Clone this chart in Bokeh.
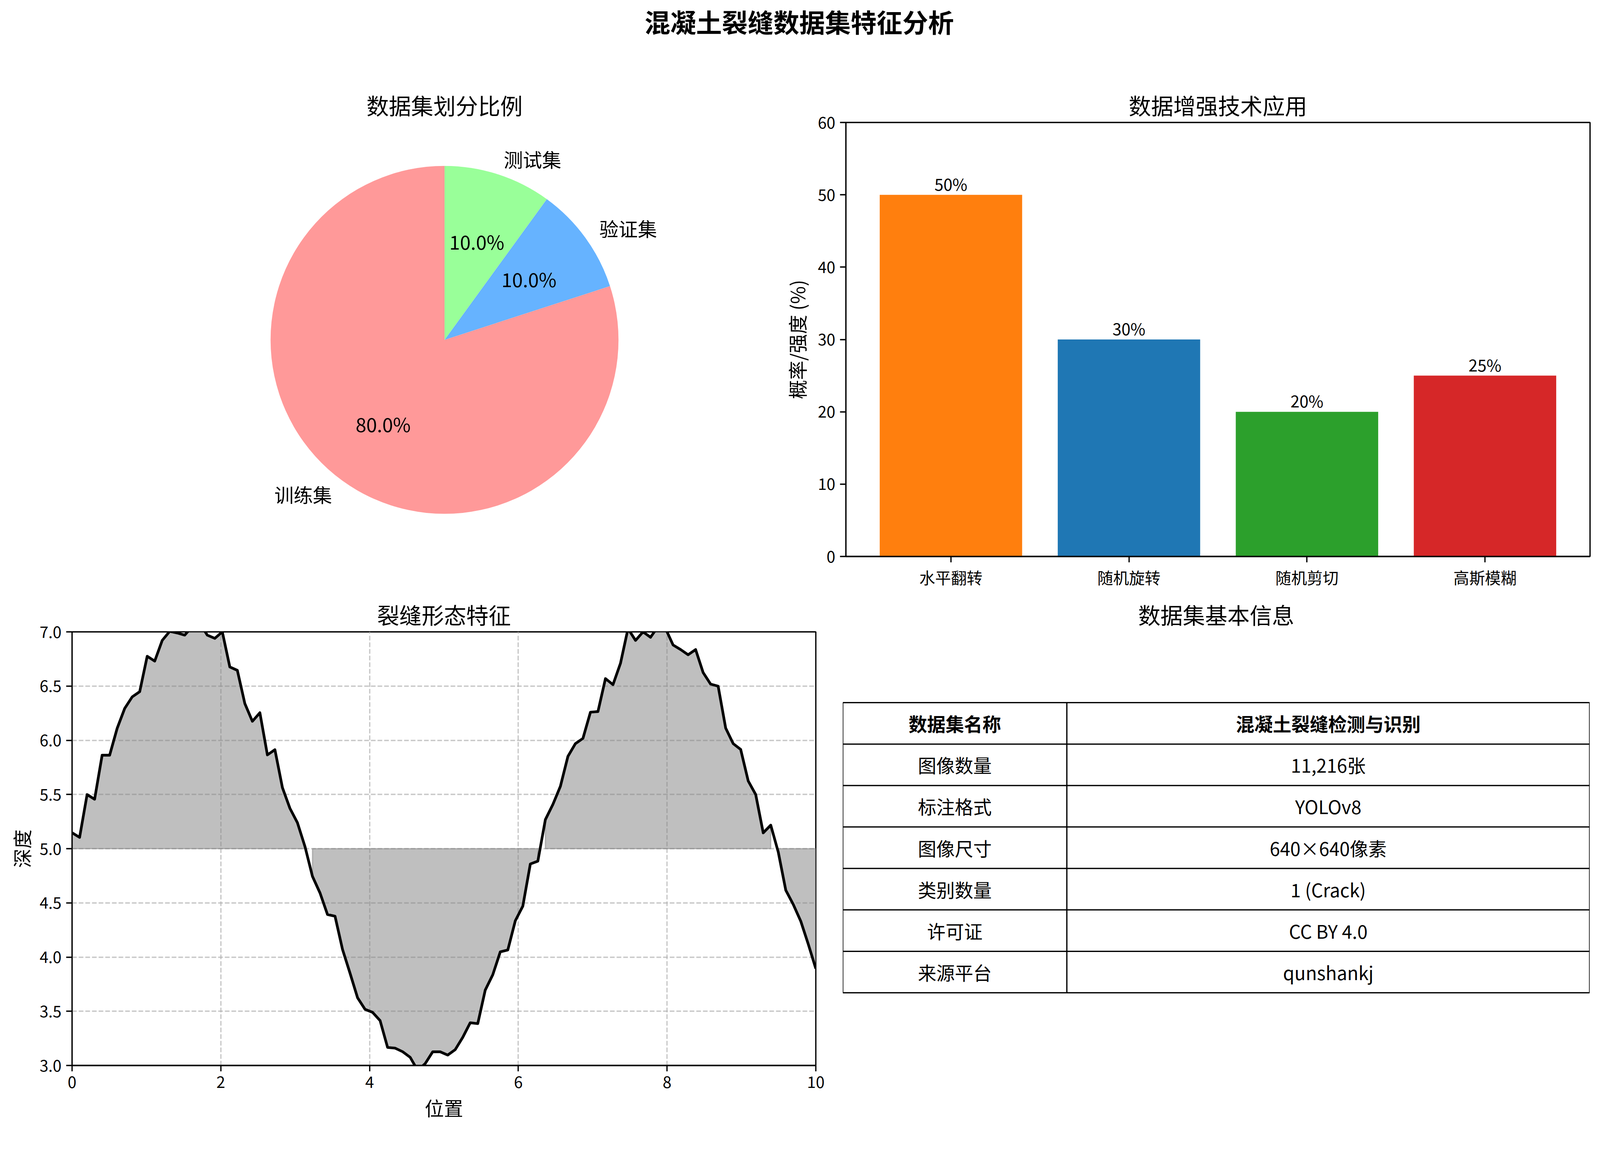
import numpy as np
from bokeh.plotting import figure
from bokeh.layouts import column, row
from bokeh.models import Range1d, FixedTicker, PrintfTickFormatter
from bokeh.core.properties import value
from bokeh.embed import file_html
from bokeh.resources import INLINE

FONT = "Noto Sans CJK SC"

# ---------------- data ----------------
suptitle = "混凝土裂缝数据集特征分析"

pie_title = "数据集划分比例"
split_labels = ["训练集", "验证集", "测试集"]
split_values = [80, 10, 10]
split_colors = ["#ff9999", "#66b3ff", "#99ff99"]

bar_title = "数据增强技术应用"
aug_names = ["水平翻转", "随机旋转", "随机剪切", "高斯模糊"]
aug_values = [50, 30, 20, 25]
aug_colors = ["#ff7f0e", "#1f77b4", "#2ca02c", "#d62728"]
bar_ylabel = "概率/强度 (%)"
bar_yticks = [0, 10, 20, 30, 40, 50, 60]

line_title = "裂缝形态特征"
line_xlabel = "位置"
line_ylabel = "深度"
depth = [
    5.147, 5.104, 5.499, 5.456, 5.862, 5.862, 6.110, 6.293, 6.400, 6.448,
    6.775, 6.730, 6.921, 7.005, 6.990, 6.970, 7.050, 7.080, 6.970, 6.940,
    7.000, 6.676, 6.645, 6.338, 6.175, 6.254, 5.865, 5.913, 5.563, 5.372,
    5.239, 5.020, 4.744, 4.592, 4.392, 4.377, 4.070, 3.851, 3.625, 3.518,
    3.490, 3.414, 3.166, 3.160, 3.127, 3.076, 2.955, 3.017, 3.126, 3.126,
    3.096, 3.146, 3.259, 3.394, 3.386, 3.696, 3.837, 4.048, 4.065, 4.335,
    4.470, 4.859, 4.885, 5.268, 5.408, 5.575, 5.851, 5.969, 6.017, 6.259,
    6.265, 6.569, 6.513, 6.710, 7.030, 6.921, 7.000, 6.950, 7.050, 7.030,
    6.879, 6.837, 6.789, 6.837, 6.625, 6.518, 6.499, 6.113, 5.969, 5.915,
    5.625, 5.499, 5.146, 5.217, 4.969, 4.617, 4.485, 4.330, 4.118, 3.893,
]
position_start, position_end = 0.0, 10.0
depth_baseline = 5.0
line_xticks = [0, 2, 4, 6, 8, 10]
line_yticks = [3.0, 3.5, 4.0, 4.5, 5.0, 5.5, 6.0, 6.5, 7.0]

table_title = "数据集基本信息"
table_keys = ["数据集名称", "图像数量", "标注格式", "图像尺寸", "类别数量", "许可证", "来源平台"]
table_vals = ["混凝土裂缝检测与识别", "11,216张", "YOLOv8", "640×640像素", "1 (Crack)", "CC BY 4.0", "qunshankj"]
table_col_widths = [0.3, 0.7]

# ---------------- layout helpers (sizes in reference pixels, scaled) ----------------
S = 0.985


def px(v):
    return int(round(v * S))


def fs(v):
    return "%.1fpx" % (v * S)


LW = 3.3 * S


def base_fig(**kw):
    return figure(output_backend="svg", toolbar_location=None, **kw)


def style_title(p, size=58):
    p.title.text_font = FONT
    p.title.text_font_size = fs(size)
    p.title.text_font_style = "normal"
    p.title.text_color = "black"
    p.title.align = "center"
    p.title.standoff = px(10)


def style_axes(p, label_standoff=16):
    for ax in p.axis:
        ax.axis_line_width = LW
        ax.axis_line_color = "black"
        ax.major_tick_line_width = LW
        ax.major_tick_line_color = "black"
        ax.major_tick_out = px(15)
        ax.major_tick_in = 0
        ax.minor_tick_line_color = None
        ax.major_label_text_font = FONT
        ax.major_label_text_font_size = fs(41)
        ax.major_label_text_color = "black"
        ax.major_label_standoff = px(12)
        ax.axis_label_text_font = FONT
        ax.axis_label_text_font_size = fs(50)
        ax.axis_label_text_font_style = "normal"
        ax.axis_label_text_color = "black"
        ax.axis_label_standoff = px(label_standoff)
    p.outline_line_color = "black"
    p.outline_line_width = LW
    p.outline_line_alpha = 1.0


# reference-pixel geometry
TOP_H = 142
ROW1_H = 1390
ROW2_H = 1401
ROW1_Y = 8 + TOP_H
ROW2_Y = ROW1_Y + ROW1_H
PIE_W = 2005
BAR_W = 4153 - PIE_W
LINE_W = 2152
TAB_W = 4153 - LINE_W
PIE_CX, PIE_CY, PIE_R = 1163, 894, 452
R1_TOP, R1_BOT = 176, 80      # borders shared by the pie and bar figures
R2_TOP, R2_BOT = 110, 164     # borders shared by the line and table figures
TABLE_TOP, TABLE_BOT = 1834, 2588

# ---------------- suptitle ----------------
top = base_fig(width=px(4153), height=px(TOP_H), x_range=Range1d(0, 1), y_range=Range1d(0, 1),
               min_border=0, x_axis_location=None, y_axis_location=None)
top.grid.visible = False
top.outline_line_color = None
top.text(x=[0.5], y=[0.62], text=[suptitle], text_align="center", text_baseline="middle",
         text_font=value(FONT), text_font_size=fs(67), text_font_style="bold", text_color="black")

# ---------------- pie (frame aligned with the bar frame of the same row) ----------------
pie_right = 8 + PIE_W
pie_left_frame = 2 * PIE_CX - pie_right
f_top = ROW1_Y + R1_TOP
f_bot = ROW1_Y + ROW1_H - R1_BOT
pie = base_fig(width=px(PIE_W), height=px(ROW1_H),
               x_range=Range1d((pie_left_frame - PIE_CX) / PIE_R, (pie_right - PIE_CX) / PIE_R),
               y_range=Range1d((PIE_CY - f_bot) / PIE_R, (PIE_CY - f_top) / PIE_R),
               min_border_left=px(pie_left_frame - 8), min_border_right=0,
               min_border_top=px(R1_TOP), min_border_bottom=px(R1_BOT),
               x_axis_location=None, y_axis_location=None, title=pie_title)
style_title(pie)
pie.grid.visible = False
pie.outline_line_color = None
fr = np.array(split_values, dtype=float) / sum(split_values)
ends = np.pi / 2 + 2 * np.pi * np.cumsum(fr)
starts = ends - 2 * np.pi * fr
pie.wedge(x=0, y=0, radius=1.0, start_angle=list(starts), end_angle=list(ends),
          direction="anticlock", fill_color=split_colors, line_color=None)
mids = (starts + ends) / 2
for lab, frac, a in zip(split_labels, fr, mids):
    lx, ly = 1.1 * np.cos(a), 1.1 * np.sin(a)
    pie.text(x=[lx], y=[ly], text=[lab], text_align="left" if lx > 0 else "right",
             text_baseline="middle", text_font=value(FONT), text_font_size=fs(50), text_color="black")
    qx, qy = 0.6 * np.cos(a), 0.6 * np.sin(a)
    pie.text(x=[qx], y=[qy], text=["%.1f%%" % (frac * 100)], text_align="center",
             text_baseline="middle", text_font=value(FONT), text_font_size=fs(50), text_color="black")

# ---------------- bar ----------------
bx = list(range(len(aug_names)))
bar = base_fig(width=px(BAR_W), height=px(ROW1_H), x_range=Range1d(-0.59, 3.59), y_range=Range1d(0, 60),
               min_border_left=px(2206 - pie_right), min_border_right=px(4161 - 4140),
               min_border_top=px(R1_TOP), min_border_bottom=px(R1_BOT),
               title=bar_title)
style_title(bar)
bar.grid.visible = False
bar.vbar(x=bx, top=aug_values, width=0.8, fill_color=aug_colors, line_color=None)
bar.text(x=bx, y=aug_values, text=["%d%%" % v for v in aug_values], text_align="center",
         text_baseline="alphabetic", y_offset=-px(29), text_font=value(FONT), text_font_size=fs(42),
         text_color="black")
bar.xaxis.ticker = FixedTicker(ticks=bx)
bar.xaxis.major_label_overrides = {i: n for i, n in zip(bx, aug_names)}
bar.yaxis.ticker = FixedTicker(ticks=bar_yticks)
bar.yaxis.axis_label = bar_ylabel
style_axes(bar)
bar.xaxis.major_label_standoff = px(8)

# ---------------- line ----------------
yv = np.array(depth, dtype=float)
xv = np.linspace(position_start, position_end, len(yv))
line = base_fig(width=px(LINE_W), height=px(ROW2_H), x_range=Range1d(position_start, position_end),
                y_range=Range1d(3, 7),
                min_border_left=px(187), min_border_right=px(8 + LINE_W - 2128),
                min_border_top=px(R2_TOP), min_border_bottom=px(R2_BOT),
                title=line_title)
style_title(line)
pxs, pys = [], []
for mask in (yv >= depth_baseline, yv < depth_baseline):
    idx = np.flatnonzero(mask)
    if len(idx) == 0:
        continue
    for seg in np.split(idx, np.flatnonzero(np.diff(idx) > 1) + 1):
        if len(seg) < 2:
            continue
        pxs.append(list(xv[seg]) + list(xv[seg][::-1]))
        pys.append(list(yv[seg]) + [depth_baseline] * len(seg))
line.patches(pxs, pys, fill_color="gray", fill_alpha=0.5, line_color="gray", line_alpha=0.5, line_width=3 * S)
line.line(xv, yv, line_color="black", line_width=7 * S, line_join="round")
line.xaxis.ticker = FixedTicker(ticks=line_xticks)
line.yaxis.ticker = FixedTicker(ticks=line_yticks)
line.yaxis.formatter = PrintfTickFormatter(format="%.1f")
line.xaxis.axis_label = line_xlabel
line.yaxis.axis_label = line_ylabel
line.grid.grid_line_color = "#b0b0b0"
line.grid.grid_line_alpha = 0.7
line.grid.grid_line_width = LW
line.grid.grid_line_dash = "12 5"
style_axes(line)
line.xaxis.axis_label_standoff = px(11)
line.yaxis.axis_label_standoff = px(8)

# ---------------- table ----------------
nrows = len(table_keys)
t_top = ROW2_Y + R2_TOP
t_bot = ROW2_Y + ROW2_H - R2_BOT
row_h = (TABLE_BOT - TABLE_TOP) / nrows
tab = base_fig(width=px(TAB_W), height=px(ROW2_H), x_range=Range1d(0, 1),
               y_range=Range1d(nrows + (t_bot - TABLE_BOT) / row_h, -(TABLE_TOP - t_top) / row_h),
               min_border_left=px(2198 - 8 - LINE_W), min_border_right=px(4161 - 4139),
               min_border_top=px(R2_TOP), min_border_bottom=px(R2_BOT),
               x_axis_location=None, y_axis_location=None, title=table_title)
style_title(tab)
tab.grid.visible = False
tab.outline_line_color = None
col_edges = np.concatenate([[0], np.cumsum(table_col_widths)])
col_centers = (col_edges[:-1] + col_edges[1:]) / 2
rows_y = np.arange(nrows + 1)
tab.segment(x0=[0] * len(rows_y), y0=list(rows_y), x1=[col_edges[-1]] * len(rows_y), y1=list(rows_y),
            line_color="black", line_width=LW)
tab.segment(x0=list(col_edges), y0=[0] * len(col_edges), x1=list(col_edges), y1=[nrows] * len(col_edges),
            line_color="black", line_width=LW)
for i, (k, v) in enumerate(zip(table_keys, table_vals)):
    style = "bold" if i == 0 else "normal"
    tab.text(x=[col_centers[0], col_centers[1]], y=[i + 0.5, i + 0.5], text=[k, v],
             text_align="center", text_baseline="middle", text_font=value(FONT),
             text_font_size=fs(48), text_font_style=style, text_color="black")

layout = column(top, row(pie, bar), row(line, tab))
open("out.html", "w").write(file_html(layout, INLINE))
